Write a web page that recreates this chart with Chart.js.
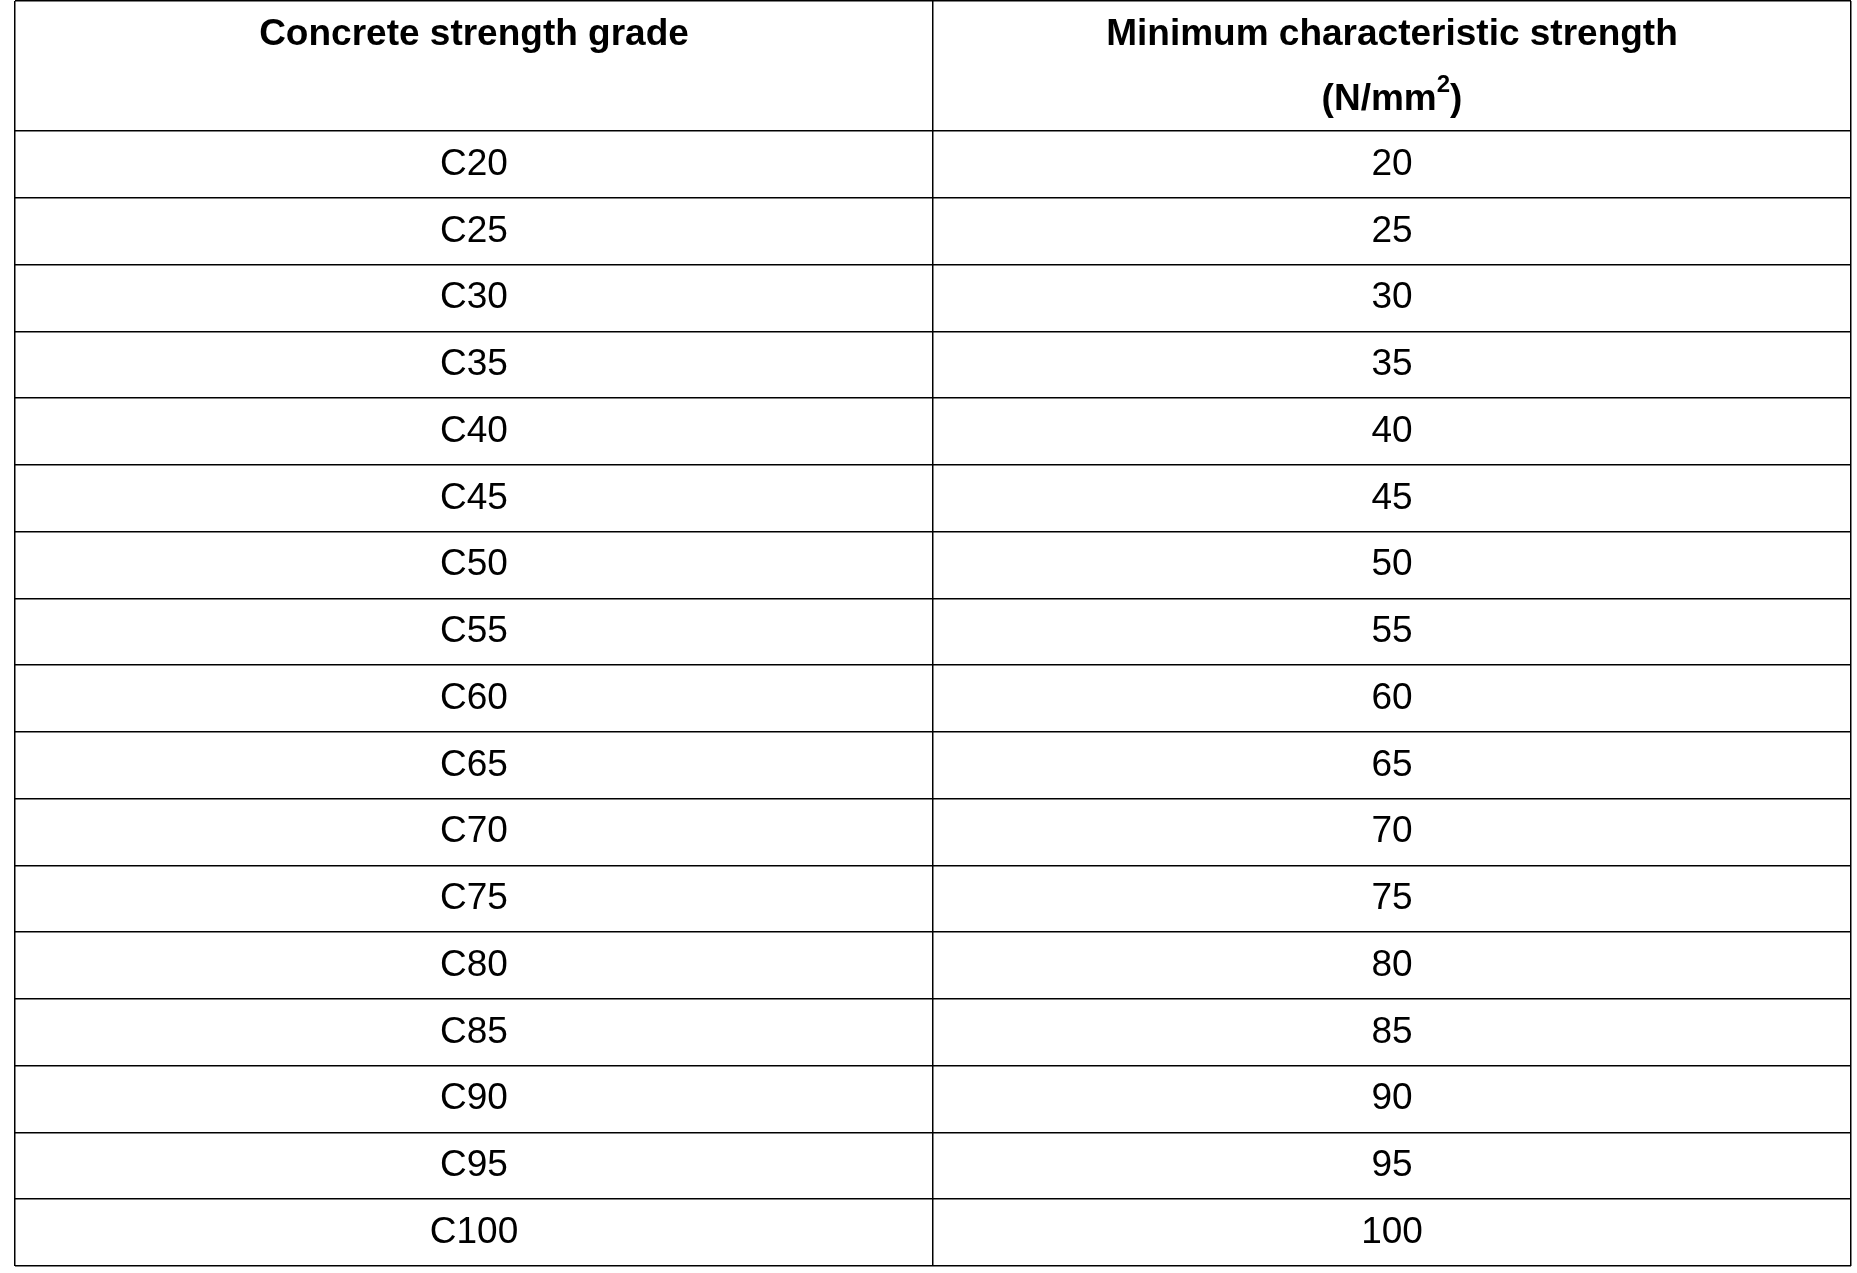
<!DOCTYPE html>
<html><head><meta charset="utf-8">
<script src="https://cdn.jsdelivr.net/npm/chart.js@4"></script>
<style>html,body{margin:0;padding:0;background:#fff}#wrap{width:1857px;height:1273px}</style>
</head><body><div id="wrap"><canvas id="c"></canvas></div>
<script>
const headers = ["Concrete strength grade", "Minimum characteristic strength"];
const headerUnit = ["(N/mm", "2", ")"];
const grades = ["C20","C25","C30","C35","C40","C45","C50","C55","C60","C65","C70","C75","C80","C85","C90","C95","C100"];
const strengths = [20,25,30,35,40,45,50,55,60,65,70,75,80,85,90,95,100];
const headerRows = 1.95;

const rowBounds = [0];
for (let i = 0; i <= grades.length; i++) rowBounds.push(headerRows + i);

const tablePlugin = {
  id: 'tableText',
  afterDraw(chart) {
    const ctx = chart.ctx, x = chart.scales.x, y = chart.scales.y;
    const c1 = x.getPixelForValue(0.5), c2 = x.getPixelForValue(1.5);
    ctx.save();
    ctx.fillStyle = '#000';
    ctx.textAlign = 'center'; ctx.textBaseline = 'middle';
    ctx.font = 'bold 37px "Liberation Sans", Arial, sans-serif';
    const h1 = y.getPixelForValue(0.5);
    const h2 = y.getPixelForValue(1.48);
    ctx.fillText(headers[0], c1, h1);
    ctx.fillText(headers[1], c2, h1);
    // unit with superscript
    const a = headerUnit[0], b = headerUnit[1], cc = headerUnit[2];
    const wa = ctx.measureText(a).width, wc = ctx.measureText(cc).width;
    ctx.font = 'bold 24px "Liberation Sans", Arial, sans-serif';
    const wb = ctx.measureText(b).width;
    let sx = c2 - (wa + wb + wc) / 2;
    ctx.textAlign = 'left';
    ctx.font = 'bold 37px "Liberation Sans", Arial, sans-serif';
    ctx.fillText(a, sx, h2);
    ctx.font = 'bold 24px "Liberation Sans", Arial, sans-serif';
    ctx.fillText(b, sx + wa, h2 - 14);
    ctx.font = 'bold 37px "Liberation Sans", Arial, sans-serif';
    ctx.fillText(cc, sx + wa + wb, h2);
    ctx.textAlign = 'center';
    ctx.font = '37px "Liberation Sans", Arial, sans-serif';
    grades.forEach((g, i) => {
      const yy = y.getPixelForValue(headerRows + i + 0.5);
      ctx.fillText(g, c1, yy);
      ctx.fillText(String(strengths[i]), c2, yy);
    });
    ctx.restore();
  }
};

new Chart(document.getElementById('c'), {
  type: 'scatter',
  data: { datasets: [{ data: [], pointRadius: 0 }] },
  plugins: [tablePlugin],
  options: {
    responsive: true, maintainAspectRatio: false, animation: false,
    layout: { padding: { left: 15, right: 6, top: 1, bottom: 7 } },
    plugins: { legend: { display: false }, tooltip: { enabled: false } },
    scales: {
      x: { type: 'linear', min: 0, max: 2,
        afterBuildTicks: s => { s.ticks = [0,1,2].map(v => ({ value: v })); },
        ticks: { display: false }, border: { display: false },
        grid: { color: '#000', lineWidth: 1.5, drawTicks: false } },
      y: { type: 'linear', reverse: true, min: 0, max: rowBounds[rowBounds.length - 1],
        afterBuildTicks: s => { s.ticks = rowBounds.map(v => ({ value: v })); },
        ticks: { display: false }, border: { display: false },
        grid: { color: '#000', lineWidth: 1.5, drawTicks: false } }
    }
  }
});
</script></body></html>
